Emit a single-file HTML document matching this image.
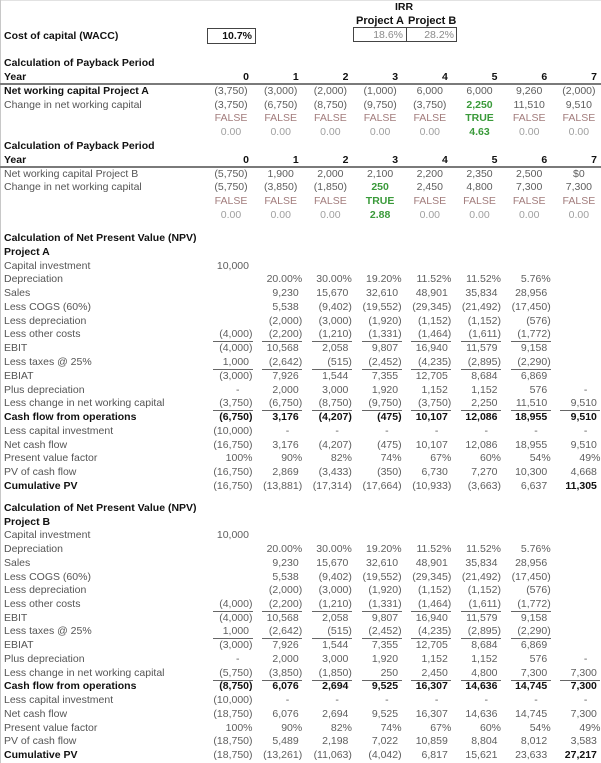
<!DOCTYPE html>
<html><head><meta charset="utf-8"><style>
body{margin:0;width:601px;height:763px;position:relative;background:#fff;overflow:hidden;font-family:"Liberation Sans",Arial,sans-serif;font-size:10.5px}
.r{position:absolute;left:0;width:601px;height:12px;line-height:12px;color:#5e5e5e}
.r>span{position:absolute;top:0;white-space:nowrap}
.r>i{position:absolute;top:13px;height:1px;width:40px;background:#666}
.L{left:4px;color:#555}
.B{font-weight:bold;color:#111 !important}
.a0{right:348.5px}.a1{right:298.8px}.a2{right:249.1px}.a3{right:199.4px}.a4{right:149.7px}.a5{right:100px}.a6{right:50.3px}.a7{right:0.6px}
.b0{right:352px}.b1{right:302.3px}.b2{right:252.6px}.b3{right:202.9px}.b4{right:153.2px}.b5{right:103.5px}.b6{right:53.8px}.b7{right:4.1px}
.d0{right:361.5px}.d1{right:311.8px}.d2{right:262.1px}.d3{right:212.4px}.d4{right:162.7px}.d5{right:113px}.d6{right:63.3px}.d7{right:13.6px}
.c0,.c1,.c2,.c3,.c4,.c5,.c6,.c7{width:50px;text-align:center}
.c0{left:206px}.c1{left:255.7px}.c2{left:305.4px}.c3{left:355.1px}.c4{left:404.8px}.c5{left:454.5px}.c6{left:504.2px}.c7{left:553.9px}
.u0{left:212.5px}.u1{left:262.2px}.u2{left:311.9px}.u3{left:361.6px}.u4{left:411.3px}.u5{left:461px}.u6{left:510.7px}.u7{left:560.4px}
.f{color:#a27c7c}
.t{color:#3a9a3a;font-weight:bold}
.z{color:#a0a0a0}
.hl{position:absolute;left:0;width:601px;height:2px;background:#7a7a7a}
.box{position:absolute;border:1px solid #444;box-sizing:border-box}
</style></head><body>
<div style="position:absolute;left:0;top:0;width:601px;height:1px;background:#e2e2e2"></div>
<div style="position:absolute;left:0;top:0;width:1px;height:763px;background:#c8c8c8"></div>

<!-- IRR header -->
<div class="r" style="top:1px"><span class="B" style="left:379px;width:50px;text-align:center">IRR</span></div>
<div class="r" style="top:15px;font-size:11px"><span class="B" style="left:356px">Project A</span><span class="B" style="left:408px">Project B</span></div>
<div class="box" style="left:353px;top:27px;width:104px;height:15px"></div>
<div style="position:absolute;left:406px;top:27px;width:1px;height:15px;background:#444"></div>
<div class="r" style="top:29px;color:#8a8a8a"><span style="right:198px">18.6%</span><span style="right:147px">28.2%</span></div>

<!-- WACC -->
<div class="box" style="left:207px;top:28px;width:49px;height:16px"></div>
<div class="r" style="top:30px"><span class="L B">Cost of capital (WACC)</span><span class="B" style="right:349px">10.7%</span></div>

<!-- Payback A -->
<div class="r" style="top:57px"><span class="L B">Calculation of Payback Period</span></div>
<div class="r" style="top:71px"><span class="L B">Year</span><span class="b0 B">0</span><span class="b1 B">1</span><span class="b2 B">2</span><span class="b3 B">3</span><span class="b4 B">4</span><span class="b5 B">5</span><span class="b6 B">6</span><span class="b7 B">7</span></div>
<div class="hl" style="top:83px"></div>
<div class="r" style="top:85px"><span class="L B">Net working capital Project A</span><span class="c0">(3,750)</span><span class="c1">(3,000)</span><span class="c2">(2,000)</span><span class="c3">(1,000)</span><span class="c4">6,000</span><span class="c5">6,000</span><span class="c6">9,260</span><span class="c7">(2,000)</span></div>
<div class="r" style="top:99px"><span class="L">Change in net working capital</span><span class="c0">(3,750)</span><span class="c1">(6,750)</span><span class="c2">(8,750)</span><span class="c3">(9,750)</span><span class="c4">(3,750)</span><span class="c5 t">2,250</span><span class="c6">11,510</span><span class="c7">9,510</span></div>
<div class="r" style="top:112px"><span class="c0 f">FALSE</span><span class="c1 f">FALSE</span><span class="c2 f">FALSE</span><span class="c3 f">FALSE</span><span class="c4 f">FALSE</span><span class="c5 t">TRUE</span><span class="c6 f">FALSE</span><span class="c7 f">FALSE</span></div>
<div class="r" style="top:126px"><span class="c0 z">0.00</span><span class="c1 z">0.00</span><span class="c2 z">0.00</span><span class="c3 z">0.00</span><span class="c4 z">0.00</span><span class="c5 t">4.63</span><span class="c6 z">0.00</span><span class="c7 z">0.00</span></div>

<!-- Payback B -->
<div class="r" style="top:140px"><span class="L B">Calculation of Payback Period</span></div>
<div class="r" style="top:154px"><span class="L B">Year</span><span class="b0 B">0</span><span class="b1 B">1</span><span class="b2 B">2</span><span class="b3 B">3</span><span class="b4 B">4</span><span class="b5 B">5</span><span class="b6 B">6</span><span class="b7 B">7</span></div>
<div class="hl" style="top:166px"></div>
<div class="r" style="top:168px"><span class="L">Net working capital Project B</span><span class="c0">(5,750)</span><span class="c1">1,900</span><span class="c2">2,000</span><span class="c3">2,100</span><span class="c4">2,200</span><span class="c5">2,350</span><span class="c6">2,500</span><span class="c7">$0</span></div>
<div class="r" style="top:181px"><span class="L">Change in net working capital</span><span class="c0">(5,750)</span><span class="c1">(3,850)</span><span class="c2">(1,850)</span><span class="c3 t">250</span><span class="c4">2,450</span><span class="c5">4,800</span><span class="c6">7,300</span><span class="c7">7,300</span></div>
<div class="r" style="top:195px"><span class="c0 f">FALSE</span><span class="c1 f">FALSE</span><span class="c2 f">FALSE</span><span class="c3 t">TRUE</span><span class="c4 f">FALSE</span><span class="c5 f">FALSE</span><span class="c6 f">FALSE</span><span class="c7 f">FALSE</span></div>
<div class="r" style="top:209px"><span class="c0 z">0.00</span><span class="c1 z">0.00</span><span class="c2 z">0.00</span><span class="c3 t">2.88</span><span class="c4 z">0.00</span><span class="c5 z">0.00</span><span class="c6 z">0.00</span><span class="c7 z">0.00</span></div>

<!-- NPV A -->
<div class="r" style="top:232px"><span class="L B">Calculation of Net Present Value (NPV)</span></div>
<div class="r" style="top:246px"><span class="L B">Project A</span></div>
<div class="r" style="top:260px"><span class="L">Capital investment</span><span class="b0">10,000</span></div>
<div class="r" style="top:273px"><span class="L">Depreciation</span><span class="a1">20.00%</span><span class="a2">30.00%</span><span class="a3">19.20%</span><span class="a4">11.52%</span><span class="a5">11.52%</span><span class="a6">5.76%</span></div>
<div class="r" style="top:287px"><span class="L">Sales</span><span class="b1">9,230</span><span class="b2">15,670</span><span class="b3">32,610</span><span class="b4">48,901</span><span class="b5">35,834</span><span class="b6">28,956</span></div>
<div class="r" style="top:301px"><span class="L">Less COGS (60%)</span><span class="b1">5,538</span><span class="a2">(9,402)</span><span class="a3">(19,552)</span><span class="a4">(29,345)</span><span class="a5">(21,492)</span><span class="a6">(17,450)</span></div>
<div class="r" style="top:315px"><span class="L">Less depreciation</span><span class="a1">(2,000)</span><span class="a2">(3,000)</span><span class="a3">(1,920)</span><span class="a4">(1,152)</span><span class="a5">(1,152)</span><span class="a6">(576)</span></div>
<div class="r" style="top:328px"><span class="L">Less other costs</span><span class="a0">(4,000)</span><span class="a1">(2,200)</span><span class="a2">(1,210)</span><span class="a3">(1,331)</span><span class="a4">(1,464)</span><span class="a5">(1,611)</span><span class="a6">(1,772)</span><i class="u0"></i><i class="u1"></i><i class="u2"></i><i class="u3"></i><i class="u4"></i><i class="u5"></i><i class="u6"></i></div>
<div class="r" style="top:342px"><span class="L">EBIT</span><span class="a0">(4,000)</span><span class="b1">10,568</span><span class="b2">2,058</span><span class="b3">9,807</span><span class="b4">16,940</span><span class="b5">11,579</span><span class="b6">9,158</span></div>
<div class="r" style="top:356px"><span class="L">Less taxes @ 25%</span><span class="b0">1,000</span><span class="a1">(2,642)</span><span class="a2">(515)</span><span class="a3">(2,452)</span><span class="a4">(4,235)</span><span class="a5">(2,895)</span><span class="a6">(2,290)</span><i class="u0"></i><i class="u1"></i><i class="u2"></i><i class="u3"></i><i class="u4"></i><i class="u5"></i><i class="u6"></i></div>
<div class="r" style="top:370px"><span class="L">EBIAT</span><span class="a0">(3,000)</span><span class="b1">7,926</span><span class="b2">1,544</span><span class="b3">7,355</span><span class="b4">12,705</span><span class="b5">8,684</span><span class="b6">6,869</span></div>
<div class="r" style="top:384px"><span class="L">Plus depreciation</span><span class="d0">-</span><span class="b1">2,000</span><span class="b2">3,000</span><span class="b3">1,920</span><span class="b4">1,152</span><span class="b5">1,152</span><span class="b6">576</span><span class="d7">-</span></div>
<div class="r" style="top:397px"><span class="L">Less change in net working capital</span><span class="a0">(3,750)</span><span class="a1">(6,750)</span><span class="a2">(8,750)</span><span class="a3">(9,750)</span><span class="a4">(3,750)</span><span class="b5">2,250</span><span class="b6">11,510</span><span class="b7">9,510</span><i class="u0"></i><i class="u1"></i><i class="u2"></i><i class="u3"></i><i class="u4"></i><i class="u5"></i><i class="u6"></i><i class="u7"></i></div>
<div class="r" style="top:411px"><span class="L B">Cash flow from operations</span><span class="a0 B">(6,750)</span><span class="b1 B">3,176</span><span class="a2 B">(4,207)</span><span class="a3 B">(475)</span><span class="b4 B">10,107</span><span class="b5 B">12,086</span><span class="b6 B">18,955</span><span class="b7 B">9,510</span></div>
<div class="r" style="top:425px"><span class="L">Less capital investment</span><span class="a0">(10,000)</span><span class="d1">-</span><span class="d2">-</span><span class="d3">-</span><span class="d4">-</span><span class="d5">-</span><span class="d6">-</span><span class="d7">-</span></div>
<div class="r" style="top:439px"><span class="L">Net cash flow</span><span class="a0">(16,750)</span><span class="b1">3,176</span><span class="a2">(4,207)</span><span class="a3">(475)</span><span class="b4">10,107</span><span class="b5">12,086</span><span class="b6">18,955</span><span class="b7">9,510</span></div>
<div class="r" style="top:452px"><span class="L">Present value factor</span><span class="a0">100%</span><span class="a1">90%</span><span class="a2">82%</span><span class="a3">74%</span><span class="a4">67%</span><span class="a5">60%</span><span class="a6">54%</span><span class="a7">49%</span></div>
<div class="r" style="top:466px"><span class="L">PV of cash flow</span><span class="a0">(16,750)</span><span class="b1">2,869</span><span class="a2">(3,433)</span><span class="a3">(350)</span><span class="b4">6,730</span><span class="b5">7,270</span><span class="b6">10,300</span><span class="b7">4,668</span></div>
<div class="r" style="top:480px"><span class="L B">Cumulative PV</span><span class="a0">(16,750)</span><span class="a1">(13,881)</span><span class="a2">(17,314)</span><span class="a3">(17,664)</span><span class="a4">(10,933)</span><span class="a5">(3,663)</span><span class="b6">6,637</span><span class="b7 B">11,305</span></div>

<!-- NPV B -->
<div class="r" style="top:502px"><span class="L B">Calculation of Net Present Value (NPV)</span></div>
<div class="r" style="top:516px"><span class="L B">Project B</span></div>
<div class="r" style="top:529px"><span class="L">Capital investment</span><span class="b0">10,000</span></div>
<div class="r" style="top:543px"><span class="L">Depreciation</span><span class="a1">20.00%</span><span class="a2">30.00%</span><span class="a3">19.20%</span><span class="a4">11.52%</span><span class="a5">11.52%</span><span class="a6">5.76%</span></div>
<div class="r" style="top:557px"><span class="L">Sales</span><span class="b1">9,230</span><span class="b2">15,670</span><span class="b3">32,610</span><span class="b4">48,901</span><span class="b5">35,834</span><span class="b6">28,956</span></div>
<div class="r" style="top:571px"><span class="L">Less COGS (60%)</span><span class="b1">5,538</span><span class="a2">(9,402)</span><span class="a3">(19,552)</span><span class="a4">(29,345)</span><span class="a5">(21,492)</span><span class="a6">(17,450)</span></div>
<div class="r" style="top:584px"><span class="L">Less depreciation</span><span class="a1">(2,000)</span><span class="a2">(3,000)</span><span class="a3">(1,920)</span><span class="a4">(1,152)</span><span class="a5">(1,152)</span><span class="a6">(576)</span></div>
<div class="r" style="top:598px"><span class="L">Less other costs</span><span class="a0">(4,000)</span><span class="a1">(2,200)</span><span class="a2">(1,210)</span><span class="a3">(1,331)</span><span class="a4">(1,464)</span><span class="a5">(1,611)</span><span class="a6">(1,772)</span><i class="u0"></i><i class="u1"></i><i class="u2"></i><i class="u3"></i><i class="u4"></i><i class="u5"></i><i class="u6"></i></div>
<div class="r" style="top:612px"><span class="L">EBIT</span><span class="a0">(4,000)</span><span class="b1">10,568</span><span class="b2">2,058</span><span class="b3">9,807</span><span class="b4">16,940</span><span class="b5">11,579</span><span class="b6">9,158</span></div>
<div class="r" style="top:625px"><span class="L">Less taxes @ 25%</span><span class="b0">1,000</span><span class="a1">(2,642)</span><span class="a2">(515)</span><span class="a3">(2,452)</span><span class="a4">(4,235)</span><span class="a5">(2,895)</span><span class="a6">(2,290)</span><i class="u0"></i><i class="u1"></i><i class="u2"></i><i class="u3"></i><i class="u4"></i><i class="u5"></i><i class="u6"></i></div>
<div class="r" style="top:639px"><span class="L">EBIAT</span><span class="a0">(3,000)</span><span class="b1">7,926</span><span class="b2">1,544</span><span class="b3">7,355</span><span class="b4">12,705</span><span class="b5">8,684</span><span class="b6">6,869</span></div>
<div class="r" style="top:653px"><span class="L">Plus depreciation</span><span class="d0">-</span><span class="b1">2,000</span><span class="b2">3,000</span><span class="b3">1,920</span><span class="b4">1,152</span><span class="b5">1,152</span><span class="b6">576</span><span class="d7">-</span></div>
<div class="r" style="top:667px"><span class="L">Less change in net working capital</span><span class="a0">(5,750)</span><span class="a1">(3,850)</span><span class="a2">(1,850)</span><span class="b3">250</span><span class="b4">2,450</span><span class="b5">4,800</span><span class="b6">7,300</span><span class="b7">7,300</span><i class="u0"></i><i class="u1"></i><i class="u2"></i><i class="u3"></i><i class="u4"></i><i class="u5"></i><i class="u6"></i><i class="u7"></i></div>
<div class="r" style="top:680px"><span class="L B">Cash flow from operations</span><span class="a0 B">(8,750)</span><span class="b1 B">6,076</span><span class="b2 B">2,694</span><span class="b3 B">9,525</span><span class="b4 B">16,307</span><span class="b5 B">14,636</span><span class="b6 B">14,745</span><span class="b7 B">7,300</span></div>
<div class="r" style="top:694px"><span class="L">Less capital investment</span><span class="a0">(10,000)</span><span class="d1">-</span><span class="d2">-</span><span class="d3">-</span><span class="d4">-</span><span class="d5">-</span><span class="d6">-</span><span class="d7">-</span></div>
<div class="r" style="top:708px"><span class="L">Net cash flow</span><span class="a0">(18,750)</span><span class="b1">6,076</span><span class="b2">2,694</span><span class="b3">9,525</span><span class="b4">16,307</span><span class="b5">14,636</span><span class="b6">14,745</span><span class="b7">7,300</span></div>
<div class="r" style="top:722px"><span class="L">Present value factor</span><span class="a0">100%</span><span class="a1">90%</span><span class="a2">82%</span><span class="a3">74%</span><span class="a4">67%</span><span class="a5">60%</span><span class="a6">54%</span><span class="a7">49%</span></div>
<div class="r" style="top:735px"><span class="L">PV of cash flow</span><span class="a0">(18,750)</span><span class="b1">5,489</span><span class="b2">2,198</span><span class="b3">7,022</span><span class="b4">10,859</span><span class="b5">8,804</span><span class="b6">8,012</span><span class="b7">3,583</span></div>
<div class="r" style="top:749px"><span class="L B">Cumulative PV</span><span class="a0">(18,750)</span><span class="a1">(13,261)</span><span class="a2">(11,063)</span><span class="a3">(4,042)</span><span class="b4">6,817</span><span class="b5">15,621</span><span class="b6">23,633</span><span class="b7 B">27,217</span></div>
</body></html>
